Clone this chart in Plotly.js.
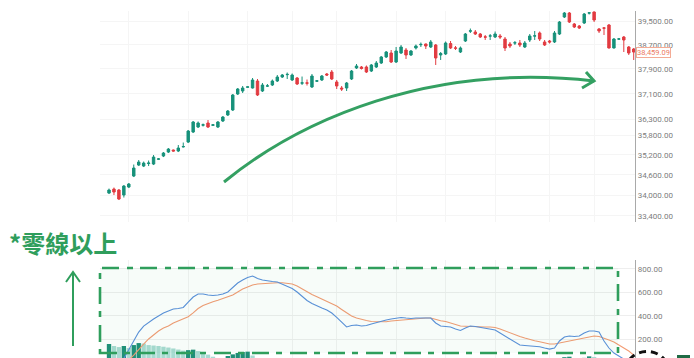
<!DOCTYPE html>
<html><head><meta charset="utf-8">
<script src="https://cdn.plot.ly/plotly-3.0.1.min.js"></script>
<style>html,body{margin:0;padding:0;background:#fff;overflow:hidden}#c{width:694px;height:358px}</style>
</head><body><div id="c"></div>
<script>
// ---- data (daily candles, index order) ----
const open  = [34058,34176,34147,34000,34235,34561,34890,34860,34935,34920,35065,35162,35283,35344,35314,35440,35588,35897,36052,36110,36177,36105,36052,36239,36427,36584,37092,37188,37310,37284,37510,37188,37345,37381,37510,37639,37715,37542,37607,37440,37450,37317,37505,37542,37737,37802,37478,37284,37284,37575,37932,37965,37965,37834,37965,38096,38294,38426,38129,38426,38525,38360,38592,38700,38725,38625,38692,38360,38393,38741,38595,38459,38825,39155,39127,39060,38965,38990,38959,38993,38892,38725,38758,38758,38625,38859,38990,39094,38792,38825,38792,39060,39636,39773,39398,39330,39432,39770,39807,39229,39265,39364,38592,38888,38959,38625,38558];
const high  = [34190,34220,34176,34294,34354,34905,35041,34995,35026,35192,35101,35283,35405,35359,35497,35573,35959,36239,36224,36160,36270,36145,36239,36396,36584,37092,37284,37349,37333,37607,37575,37445,37413,37558,37704,37737,37785,37753,37639,37655,37558,37737,37542,37704,37769,37867,37542,37349,37478,37867,38063,37998,38014,38063,38162,38327,38492,38525,38625,38692,38592,38525,38708,38775,38741,38859,38725,38459,38808,38825,38658,38641,39094,39245,39195,39094,39026,39060,39144,39060,38959,38792,38825,38859,38825,39060,39161,39144,38859,38859,39161,39500,39807,39807,39432,39364,39773,39807,39824,39262,39296,39398,38926,38926,38993,38658,38592];
const low   = [34029,34000,33854,33927,34205,34531,34860,34830,34860,34890,35041,35131,35253,35299,35283,35420,35558,35866,36021,36067,36021,36083,36021,36208,36396,36552,37060,37124,37300,37268,37028,37156,37317,37349,37478,37607,37575,37510,37381,37381,37365,37284,37478,37510,37672,37542,37252,37188,37188,37542,37900,37883,37769,37802,37932,38063,38261,38096,38096,38393,38228,38327,38542,38625,38558,38592,38031,38195,38360,38558,38525,38426,38792,39094,39026,38926,38859,38859,38926,38892,38492,38592,38692,38625,38592,38792,38859,38825,38658,38741,38758,39026,39602,39432,39262,39229,39398,39722,39466,39094,39026,38575,38575,38859,38459,38360,38195];
const close = [34147,34088,33883,34264,34324,34800,34980,34950,34950,35131,35075,35253,35374,35314,35405,35450,35928,36208,36177,36120,36052,36120,36208,36364,36552,37060,37252,37284,37320,37542,37060,37381,37352,37510,37639,37704,37725,37704,37413,37450,37440,37672,37515,37672,37704,37575,37349,37252,37445,37834,37998,37916,37802,38031,38096,38294,38459,38129,38492,38625,38360,38492,38658,38712,38658,38792,38261,38410,38758,38592,38585,38592,39060,39167,39060,38959,38955,38996,39060,38959,38592,38658,38765,38692,38758,38993,38998,38892,38692,38792,39094,39466,39773,39466,39296,39262,39739,39778,39534,39161,39258,38592,38892,38895,38859,38426,38459.09];
const macdLine   = [-189,-112,-36,32,109,186,262,313,347,373,398,424,441,458,462,471,517,560,586,586,577,573,577,586,603,645,679,705,726,739,718,705,696,692,688,671,654,632,603,569,530,505,483,466,449,424,386,347,305,317,322,313,317,330,343,356,364,373,381,386,381,377,381,381,386,381,339,313,309,305,288,275,296,313,309,300,292,283,279,254,228,198,173,151,147,145,141,137,126,117,126,186,220,228,224,228,254,271,271,262,186,126,83,58,32,7,-19];
const signalLine = [-172,-121,-70,-27,24,66,117,160,203,237,271,296,313,339,355,373,392,425,462,488,506,520,533,546,558,577,603,628,645,662,671,675,679,679,682,681,677,671,654,628,603,581,563,543,522,505,483,454,424,398,381,369,360,352,350,349,350,356,360,364,370,375,379,381,381,381,369,358,352,341,326,313,311,308,307,305,305,305,300,288,271,254,237,224,211,198,188,180,169,160,160,169,177,186,194,203,215,224,228,224,211,194,177,151,126,100,66];
const histogram  = [160,143,134,143,126,151,168,164,151,147,143,137,130,122,113,104,108,112,100,85,70,52,38,40,58,72,84,92,95,62,35,18,8,4,-6,-10,-23,-39,-51,-59,-73,-76,-80,-77,-73,-81,-97,-107,-119,-81,-59,-56,-43,-22,-7,7,14,17,21,22,11,2,2,0,5,0,-30,-45,-43,-36,-38,-38,-15,5,2,-5,-13,-22,-21,-34,-43,-56,-64,-73,-64,-53,-47,-43,-43,-43,-34,17,48,52,40,30,42,55,50,38,-25,-68,-94,-93,-94,-93,-85];
const priceTicks = [33400,34000,34600,35200,35800,36300,37100,37900,38700,39500];
const macdTicks  = [200,400,600,800];
const gridDays   = [4,16,28,37,46,58,68,78,89,98];
const lastPrice  = 38459.09;
const noteText   = '*零線以上';

// ---- layout helpers (pixel -> paper) ----
const W = 694, H = 358;
const X = px => px / W;
const Y = py => 1 - py / H;
const fmt = v => v.toLocaleString('en-US', {minimumFractionDigits: 2, maximumFractionDigits: 2});

const days = close.map((_, i) => i);
const up = '#17917a', down = '#e23b41';
const histColors = histogram.map((v, i) => {
  const prev = i > 0 ? histogram[i - 1] : v - 1;
  if (v >= 0) return v >= prev ? '#1f8f78' : '#a8dbd2';
  return v <= prev ? '#ef5350' : '#f7b8b6';
});

const traces = [
  {type: 'candlestick', x: days, open, high, low, close, xaxis: 'x', yaxis: 'y',
   increasing: {line: {color: up, width: 1}, fillcolor: up},
   decreasing: {line: {color: down, width: 1}, fillcolor: down},
   whiskerwidth: 0, hoverinfo: 'skip', showlegend: false},
  {type: 'bar', x: days, y: histogram, xaxis: 'x2', yaxis: 'y2',
   marker: {color: histColors, line: {width: 0}}, showlegend: false, hoverinfo: 'skip'},
  {type: 'scatter', mode: 'lines', x: days, y: signalLine, xaxis: 'x2', yaxis: 'y2',
   line: {color: '#f39b73', width: 1.1}, showlegend: false, hoverinfo: 'skip'},
  {type: 'scatter', mode: 'lines', x: days, y: macdLine, xaxis: 'x2', yaxis: 'y2',
   line: {color: '#5a8fdb', width: 1.1}, showlegend: false, hoverinfo: 'skip'}
];

const xr = [-1.82, 106.26];
const xdom = [X(100), X(635)];
const tickFont = {family: 'Roboto, Arial, sans-serif', size: 8, color: '#7d7d7d'};
const green = '#2f9e5c';

const layout = {
  width: W, height: H,
  margin: {l: 0, r: 0, t: 0, b: 0},
  paper_bgcolor: '#ffffff', plot_bgcolor: '#ffffff',
  bargap: 0.12,
  xaxis: {domain: xdom, range: xr, showticklabels: false, tickvals: gridDays,
          showgrid: true, gridcolor: '#f5f5f5', zeroline: false, showline: false,
          rangeslider: {visible: false}, fixedrange: true},
  xaxis2: {domain: xdom, range: xr, anchor: 'y2', showticklabels: false, tickvals: gridDays,
           showgrid: true, gridcolor: '#f2f2f2', zeroline: false, showline: false, matches: 'x'},
  yaxis: {domain: [Y(222), Y(11)], type: 'log', range: [4.521389, 4.600339], side: 'right', anchor: 'x',
          tickvals: priceTicks, ticktext: priceTicks.map(fmt), tickfont: tickFont, ticks: '',
          showgrid: true, gridcolor: '#f5f5f5', showline: true, linecolor: '#a9a9a9', linewidth: 1.2,
          zeroline: false},
  yaxis2: {domain: [0, Y(260)], range: [41, 875], side: 'right', anchor: 'x2',
           tickvals: macdTicks, ticktext: macdTicks.map(fmt), tickfont: tickFont, ticks: '',
           showgrid: true, gridcolor: '#eeeeee', showline: true, linecolor: '#a9a9a9', linewidth: 1.2,
           zeroline: false},
  shapes: [
    // highlighted zone in the indicator panel
    {type: 'rect', xref: 'paper', yref: 'paper', x0: X(100), x1: X(618), y0: Y(353), y1: Y(268),
     line: {color: green, width: 2.6, dash: '17px,7px,6px,8px'}, fillcolor: 'rgba(60,170,110,0.04)', layer: 'above'},
    // up arrow at the left
    {type: 'path', xref: 'paper', yref: 'paper',
     path: `M${X(73)},${Y(346)} L${X(73)},${Y(272)} M${X(66)},${Y(282)} L${X(73)},${Y(272)} L${X(80)},${Y(282)}`,
     line: {color: green, width: 2}, layer: 'above'},
    // big curved arrow on the price panel
    {type: 'path', xref: 'paper', yref: 'paper',
     path: `M${X(224)},${Y(182)} C${X(300)},${Y(120)} ${X(430)},${Y(62)} ${X(594)},${Y(81)}`,
     line: {color: '#34a062', width: 3}, layer: 'above'},
    {type: 'path', xref: 'paper', yref: 'paper',
     path: `M${X(586)},${Y(72)} L${X(594)},${Y(81)} L${X(582)},${Y(88)}`,
     line: {color: '#34a062', width: 3}, layer: 'above'},
    // black dashed circle (bottom right)
    {type: 'circle', xref: 'paper', yref: 'paper', x0: X(626), x1: X(668), y0: Y(388), y1: Y(351.5),
     line: {color: '#111111', width: 3, dash: '7px,5px'}, layer: 'above'},
    {type: 'line', xref: 'paper', yref: 'paper', x0: X(677), x1: X(690), y0: Y(356.5), y1: Y(356.5),
     line: {color: '#1f6b45', width: 3}, layer: 'above'}
  ],
  annotations: [
    {xref: 'paper', yref: 'paper', x: X(7), y: Y(242), xanchor: 'left', yanchor: 'middle',
     text: noteText, showarrow: false,
     font: {family: '"Noto Sans CJK TC", "Noto Sans CJK SC", sans-serif', size: 24, color: green, weight: 700}},
    {xref: 'paper', yref: 'y', x: X(635.5), y: Math.log10(lastPrice), xanchor: 'left', yanchor: 'middle',
     text: fmt(lastPrice), showarrow: false, bgcolor: '#ffffff', bordercolor: '#f4ab95', borderwidth: 1, borderpad: 0,
     font: {family: 'Roboto, Arial, sans-serif', size: 7.5, color: '#ec7a62'}}
  ]
};

Plotly.newPlot('c', traces, layout, {displayModeBar: false, staticPlot: true});
</script>
</body></html>
